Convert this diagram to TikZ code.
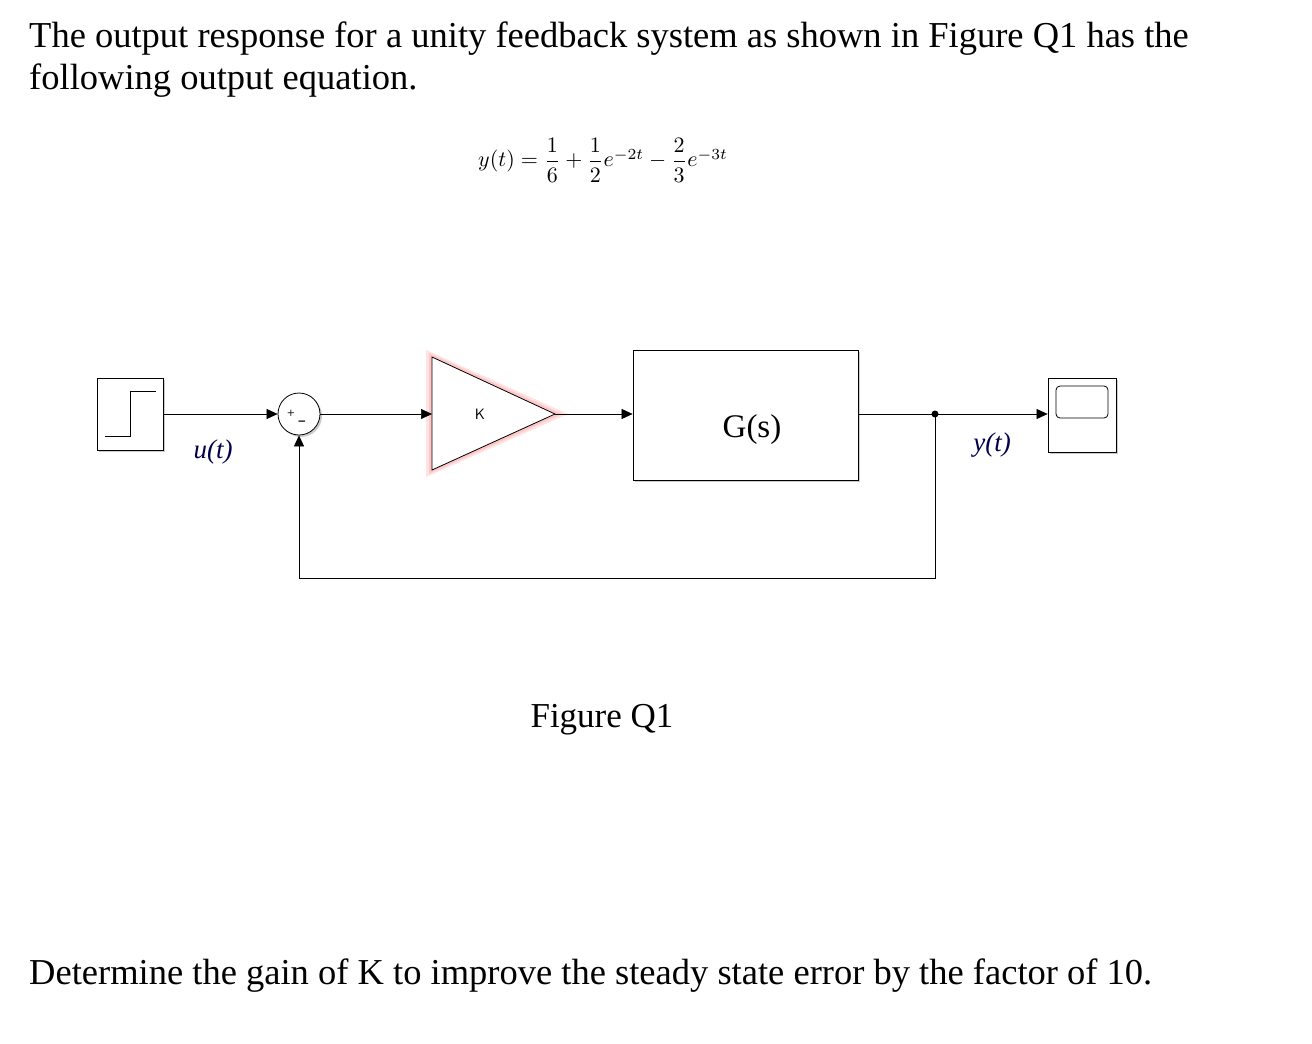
\documentclass[tikz,border=0pt]{standalone}
\usepackage{amsmath}
\usepackage{fontspec}
\setmainfont{Liberation Serif}
\usetikzlibrary{arrows.meta,shadows,positioning}
\tikzset{
  blk/.style={draw,thick,fill=white,drop shadow={shadow xshift=2pt,shadow yshift=-2pt,opacity=0.4}},
  sig/.style={-{Triangle[length=11pt,width=10pt]},semithick},
  txt/.style={font=\fontsize{36.5}{42}\selectfont,inner sep=0pt}
}
\begin{document}
\begin{tikzpicture}[x=1pt,y=-1pt]
  \useasboundingbox (0,0) rectangle (1312,1044);
  % text
  \node[txt,anchor=base west] (l1) at (29,47) {The output response for a unity feedback system as shown in Figure Q1 has the};
  \node[txt,anchor=base west] (l2) at (29,89) {following output equation.};
  \node[inner sep=0pt,scale=2.2] (eq) at (603,160) {$y(t)=\dfrac{1}{6}+\dfrac{1}{2}e^{-2t}-\dfrac{2}{3}e^{-3t}$};
  % blocks
  \node[blk,minimum width=66pt,minimum height=72pt] (step) at (130,414) {};
  \draw[thick] (105,436) -- (130,436) -- (130,391) -- (156,391);
  \node[blk,circle,minimum size=42pt,inner sep=0pt] (sum) at (299,414) {};
  \node[font=\sffamily\bfseries\fontsize{9}{9}\selectfont] (plus) at (291,413) {+};
  \node[font=\sffamily\bfseries\fontsize{9}{9}\selectfont] (minus) at (302,421) {\_};
  \coordinate (ktip) at (555,414);
  \fill[red!45,opacity=0.25] (426,350) -- (426,477) -- (568,414) -- cycle;
  \fill[red!45,opacity=0.3] (429,353) -- (429,474) -- (562,414) -- cycle;
  \draw[thick,fill=white] (432,357) -- (432,470) -- (ktip) -- cycle;
  \node[font=\sffamily\fontsize{15}{15}\selectfont] (gain) at (480,414) {K};
  \coordinate (kin) at (432,414);
  \node[blk,minimum width=225pt,minimum height=130pt] (plant) at (745.5,415) {};
  \node[font=\fontsize{33}{33}\selectfont] (gs) at (752,430) {G(s)};
  \node[blk,minimum width=68pt,minimum height=74pt] (scope) at (1082,415) {};
  \draw[thick,rounded corners=4pt] (1056,386) rectangle (1108,418);
  \coordinate (jn) at (935,414);
  \fill (jn) circle (3.5pt);
  % connectors
  \draw[sig] (step.east) -- (sum.west);
  \draw[sig] (sum.east) -- (kin);
  \draw[sig] (ktip) -- (plant.west |- ktip);
  \draw[sig] (plant.east |- jn) -- (scope.west |- jn);
  \draw[sig] (jn) -- (935,578) -- (299,578) -- (sum.south);
  % labels
  \node[font=\itshape\fontsize{27}{27}\selectfont,text=blue!30!black] (ut) at (213,452) {u(t)};
  \node[font=\itshape\fontsize{27}{27}\selectfont,text=blue!30!black] (yt) at (992,445) {y(t)};
  \node[font=\fontsize{35}{35}\selectfont] (cap) at (602,720) {Figure Q1};
  \node[txt,anchor=base west] (q) at (29,984) {Determine the gain of K to improve the steady state error by the factor of 10.};
\end{tikzpicture}
\end{document}
